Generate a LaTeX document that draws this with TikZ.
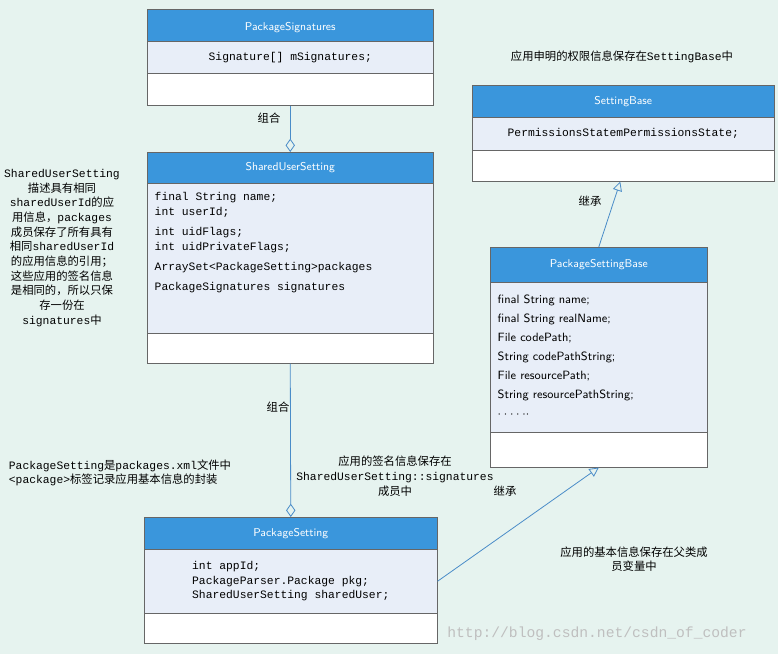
\documentclass[tikz,border=0pt]{standalone}
\usepackage{fontspec}
\setmainfont{Liberation Sans}
\setmonofont{Liberation Mono}
\newfontfamily\cjk{Noto Sans CJK SC}
\usetikzlibrary{arrows.meta, positioning}
\definecolor{bgc}{HTML}{E6F3EF}
\definecolor{hdr}{HTML}{3A96DC}
\definecolor{fld}{HTML}{E8EEF8}
\definecolor{lnk}{HTML}{4A8CC8}
\begin{document}
\begin{tikzpicture}[x=0.75pt, y=-0.75pt,
    part/.style={draw=black!60, anchor=north west, inner sep=5pt, align=left,
      font=\ttfamily\fontsize{8.5}{11}\selectfont},
    head/.style={part, fill=hdr, text=white, font=\sffamily\fontsize{8.5}{11}\selectfont},
    body/.style={part, fill=fld},
    foot/.style={part, fill=white},
    link/.style={draw=lnk, line width=0.6pt},
    note/.style={align=center, font=\ttfamily\fontsize{8.5}{11}\selectfont}]

  \fill[bgc] (0,0) rectangle (778,654);
  \useasboundingbox (0,0) rectangle (778,654);

  % PackageSignatures
  \node[head, minimum width=286*0.75pt, minimum height=32*0.75pt, text height=9pt] (sigh) at (147,9) {PackageSignatures};
  \node[body, minimum width=286*0.75pt, minimum height=32*0.75pt] (sigb) at (147,41) {Signature[] mSignatures;};
  \node[foot, minimum width=286*0.75pt, minimum height=32*0.75pt] (sigf) at (147,73) {};

  % SharedUserSetting
  \node[head, minimum width=286*0.75pt, minimum height=31*0.75pt] (sush) at (147,152) {SharedUserSetting};
  \node[body, minimum width=286*0.75pt, minimum height=150*0.75pt, text depth=80pt] (susb) at (147,183) {};
  \node[anchor=north west, align=left, font=\ttfamily\fontsize{8.5}{11}\selectfont] (sust) at (150,188)
    {final String name;\\int userId;\\[4pt]int uidFlags;\\int uidPrivateFlags;\\[4pt]ArraySet<PackageSetting>packages\\[4pt]PackageSignatures signatures};
  \node[foot, minimum width=286*0.75pt, minimum height=30*0.75pt] (susf) at (147,333) {};

  % SettingBase
  \node[head, minimum width=302*0.75pt, minimum height=32*0.75pt] (sbh) at (472,85) {SettingBase};
  \node[body, minimum width=302*0.75pt, minimum height=33*0.75pt] (sbb) at (472,117) {PermissionsStatemPermissionsState;};
  \node[foot, minimum width=302*0.75pt, minimum height=31*0.75pt] (sbf) at (472,150) {};

  % PackageSettingBase
  \node[head, minimum width=217*0.75pt, minimum height=35*0.75pt] (psbh) at (490,247) {PackageSettingBase};
  \node[body, minimum width=217*0.75pt, minimum height=150*0.75pt, font=\sffamily\fontsize{9}{14.3}\selectfont, text depth=98pt] (psbb) at (490,282) {};
  \node[anchor=north west, align=left, font=\sffamily\fontsize{9}{14.3}\selectfont] (psbt) at (493,290)
    {final String name;\\final String realName;\\File codePath;\\String codePathString;\\File resourcePath;\\String resourcePathString;\\$\cdot\cdot\cdot\cdot\cdot\cdot$};
  \node[foot, minimum width=217*0.75pt, minimum height=35*0.75pt] (psbf) at (490,432) {};

  % PackageSetting
  \node[head, minimum width=293*0.75pt, minimum height=32*0.75pt] (psh) at (144,517) {PackageSetting};
  \node[body, minimum width=293*0.75pt, minimum height=64*0.75pt] (psb) at (144,549)
    {int appId;\\PackageParser.Package pkg;\\SharedUserSetting sharedUser;};
  \node[foot, minimum width=293*0.75pt, minimum height=30*0.75pt] (psf) at (144,613) {};

  % connectors
  \draw[link, -{Diamond[open, length=10pt, width=7pt]}] (sigf.south) -- (sush.north);
  \draw[link, -{Diamond[open, length=10pt, width=7pt]}] (susf.south) -- (psh.north);
  \draw[link, -{Triangle[open, length=7pt, width=7pt]}] (psbh.north) -- ([xshift=-3*0.75pt]sbf.south);
  \draw[link, -{Triangle[open, length=7pt, width=7pt]}] (psb.east) -- (psbf.south);

  % labels
  \node[font=\cjk\fontsize{8.5}{11}\selectfont] (l1) at (269,118) {组合};
  \node[font=\cjk\fontsize{8.5}{11}\selectfont] (l2) at (278,407) {组合};
  \node[font=\cjk\fontsize{8.5}{11}\selectfont] (l3) at (590,201) {继承};
  \node[font=\cjk\fontsize{8.5}{11}\selectfont] (l4) at (505,491) {继承};

  \node[note] (n1) at (62,248) {SharedUserSetting\\{\cjk 描述具有相同}\\sharedUserId{\cjk 的应}\\{\cjk 用信息，}packages\\{\cjk 成员保存了所有具有}\\{\cjk 相同}sharedUserId\\{\cjk 的应用信息的引用；}\\{\cjk 这些应用的签名信息}\\{\cjk 是相同的，所以只保}\\{\cjk 存一份在}\\signatures{\cjk 中}};
  \node[note, align=left] (n2) at (120,473) {PackageSetting{\cjk 是}packages.xml{\cjk 文件中}\\<package>{\cjk 标签记录应用基本信息的封装}};
  \node[note] (n3) at (395,476) {{\cjk 应用的签名信息保存在}\\SharedUserSetting::signatures\\{\cjk 成员中}};
  \node[note] (n4) at (622,57) {{\cjk 应用申明的权限信息保存在}SettingBase{\cjk 中}};
  \node[note] (n5) at (634,559) {{\cjk 应用的基本信息保存在父类成}\\{\cjk 员变量中}};
  \node[note, text=black!25, font=\ttfamily\fontsize{11}{13}\selectfont] (wm) at (597,634) {http://blog.csdn.net/csdn\_of\_coder};
\end{tikzpicture}
\end{document}
